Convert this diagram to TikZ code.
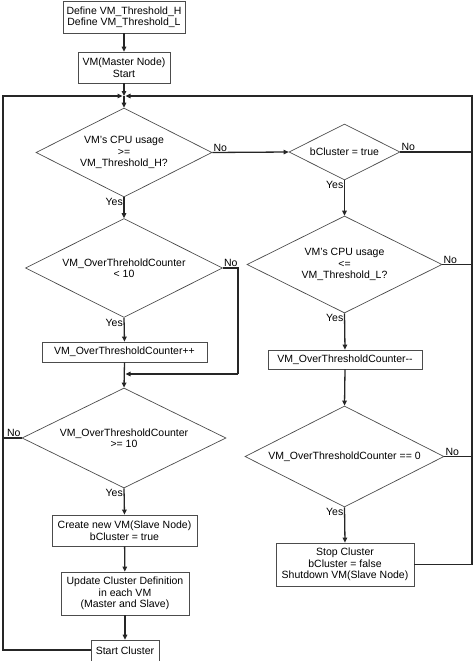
\documentclass[tikz,border=0pt]{standalone}
\usepackage{fontspec}
\setmainfont{Liberation Sans}
\usetikzlibrary{shapes.geometric,arrows.meta}
\begin{document}
\begin{tikzpicture}[x=1pt,y=-1pt,
  font=\fontsize{10.5}{11.5}\selectfont,
  box/.style={draw=black!70, line width=0.7pt, align=center, inner sep=1pt, fill=white},
  decision/.style={diamond, draw=black!70, line width=0.7pt, align=center, inner sep=0pt, aspect=2},
  conn/.style={draw=black!85, line width=1.3pt},
  arr/.style={conn, -{Triangle[length=5pt,width=4.5pt]}},
  lab/.style={inner sep=1pt}]
\useasboundingbox (0,0) rectangle (474,661);

% left column
\node[box, minimum width=122, minimum height=32] (def) at (124,17) {Define VM\_Threshold\_H\\Define VM\_Threshold\_L};
\node[box, minimum width=92, minimum height=31] (start) at (124,67.5) {VM(Master Node)\\Start};
\coordinate (j) at (124,96);
\node[decision, minimum width=176, minimum height=89] (d1) at (124,152.5) {VM's CPU usage\\>=\\VM\_Threshold\_H?};
\node[decision, minimum width=197, minimum height=99] (d2) at (124,268) {VM\_OverThreholdCounter\\< 10};
\node[box, minimum width=165, minimum height=20] (inc) at (124.5,352) {VM\_OverThresholdCounter++};
\coordinate (j2) at (124,374);
\node[decision, minimum width=204, minimum height=100] (d3) at (124,438) {VM\_OverThresholdCounter\\>= 10};
\node[box, minimum width=145, minimum height=31] (create) at (124.5,530.5) {Create new VM(Slave Node)\\bCluster = true};
\node[box, minimum width=128, minimum height=43] (update) at (125,593.5) {Update Cluster Definition\\in each VM\\(Master and Slave)};
\node[box, minimum width=68, minimum height=22] (startc) at (125,651) {Start Cluster};

% right column
\node[decision, minimum width=111, minimum height=56] (bc) at (344.5,152) {bCluster = true};
\node[decision, minimum width=195, minimum height=97] (d4) at (344.5,264.5) {VM's CPU usage\\<=\\VM\_Threshold\_L?};
\node[box, minimum width=154, minimum height=19] (decr) at (345,359.5) {VM\_OverThresholdCounter-{}-};
\node[decision, minimum width=199, minimum height=101] (d5) at (344.5,456.5) {VM\_OverThresholdCounter == 0};
\node[box, minimum width=138, minimum height=43] (stop) at (345,564.5) {Stop Cluster\\bCluster = false\\Shutdown VM(Slave Node)};

% loop corners
\coordinate (ltop) at (3,96);
\coordinate (lbot) at (3,650);
\coordinate (rtop) at (472,96);
\coordinate (rbot) at (472,564.5);
\coordinate (d2r) at (238,268);
\coordinate (d2rb) at (238,374);

% connectors
\draw[arr] (def) -- (start);
\draw[arr] (start) -- (j);
\draw[arr] (j) -- (d1.north);
\draw[arr] (d1.east) -- (bc.west);
\draw[arr] (d1.south) -- (d2.north);
\draw[arr] (d2.south) -- (inc.north);
\draw[conn] (d2.east) -- (d2r) -- (d2rb);
\draw[arr] (d2rb) -- ([xshift=1.5pt]j2);
\draw[arr] (inc.south) -- (d3.north);
\draw[arr] (d3.south) -- (create.north);
\draw[arr] (create) -- (update);
\draw[arr] (update) -- (startc);
\draw[conn] (d3.west) -- (3,438);
\draw[arr] (startc.west |- lbot) -- (lbot) -- (ltop) -- ([xshift=-1.5pt]j);

\draw[conn] (bc.east) -- (bc.east -| rtop);
\draw[arr] (bc.south) -- (d4.north);
\draw[conn] (d4.east) -- (d4.east -| rtop);
\draw[arr] (d4.south) -- (decr.north);
\draw[arr] (decr.south) -- (d5.north);
\draw[conn] (d5.east) -- (d5.east -| rtop);
\draw[arr] (d5.south) -- (stop.north);
\draw[arr] (stop.east) -- (rbot) -- (rtop) -- ([xshift=1.5pt]j);

% labels
\node[lab, anchor=south west] at (d1.east) {No};
\node[lab, anchor=north east] at (d1.south) {Yes};
\node[lab, anchor=south west] at (d2.east) {No};
\node[lab, anchor=north east] at (d2.south) {Yes};
\node[lab, anchor=south east] at (d3.west) {No};
\node[lab, anchor=north east] at (d3.south) {Yes};
\node[lab, anchor=south west] at (bc.east) {No};
\node[lab, anchor=north east] at (bc.south) {Yes};
\node[lab, anchor=south west] at (d4.east) {No};
\node[lab, anchor=north east] at (d4.south) {Yes};
\node[lab, anchor=south west] at (d5.east) {No};
\node[lab, anchor=north east] at (d5.south) {Yes};
\end{tikzpicture}
\end{document}
